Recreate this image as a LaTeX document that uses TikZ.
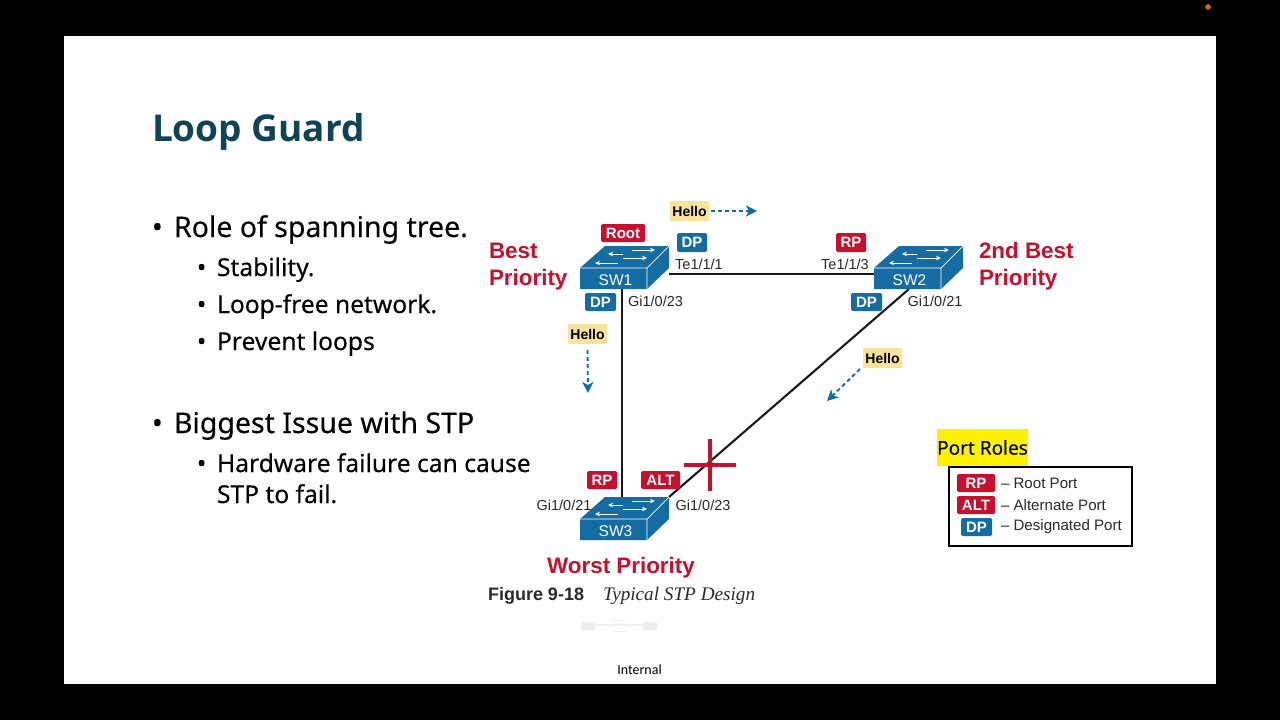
\documentclass[tikz,border=0pt]{standalone}
\usepackage{fontspec}
\setmainfont{Liberation Sans}
\newfontfamily\slidefont[FakeBold=0.25]{Noto Sans}
\newfontfamily\titlefont{Open Sans}
\newfontfamily\internalfont{Carlito}
\newfontfamily\capfont{Liberation Serif}
\usetikzlibrary{arrows.meta}
\pgfdeclarelayer{bg}
\pgfsetlayers{bg,main}
\definecolor{swblue}{HTML}{156CA3}
\definecolor{tagred}{HTML}{C90F2E}
\definecolor{titleteal}{HTML}{0E4455}
\definecolor{hellobg}{HTML}{F9E29C}
\definecolor{inkgrey}{HTML}{2A2A2A}
\tikzset{
  lbl/.style={inner sep=0pt,outer sep=0pt,font=\fontsize{14.5}{16}\selectfont,text=inkgrey},
  porttxt/.style={lbl,anchor=center},
  legtxt/.style={lbl,anchor=west,font=\fontsize{15.1}{16}\selectfont},
  tag/.style={rounded corners=1.5pt,inner sep=0pt,outer sep=0pt,text=white,
    font=\bfseries\fontsize{15}{16}\selectfont,anchor=north west},
  redtag/.style={tag,fill=tagred},
  bluetag/.style={tag,fill=swblue},
  hello/.style={rounded corners=1pt,fill=hellobg,inner sep=0pt,outer sep=0pt,anchor=north west,
    minimum width=39,minimum height=20,text=black,font=\bfseries\fontsize{14}{16}\selectfont},
  helloarrow/.style={draw=swblue,line width=1.9pt,dash pattern=on 4pt off 3pt,
    -{Stealth[length=11pt,width=11pt,inset=3pt]}},
  link/.style={draw=inkgrey!60!black,line width=2.1pt},
  prio/.style={inner sep=0pt,outer sep=0pt,anchor=base west,text=tagred,
    font=\bfseries\fontsize{22.4}{24}\selectfont},
  head/.style={inner sep=0pt,outer sep=0pt,anchor=base west,text=black},
  lv1/.style={head,font=\slidefont\fontsize{28.5}{32}\selectfont},
  lv2/.style={head,font=\slidefont\fontsize{24.6}{28}\selectfont},
  swarrow/.style={draw=white,line width=1pt,-{Stealth[length=5pt,width=4.5pt]}},
  swbox/.style={inner sep=0pt,outer sep=0pt,minimum width=89,minimum height=43,anchor=north west}
}
% switch: name, left x, top y of the body, label
\newcommand{\netswitch}[4]{%
  \node[swbox] (#1) at (#2,#3) {};
  \begin{scope}[shift={(#2,#3)}]
    \fill[swblue] (0,22) -- (25,0) -- (89,0) -- (89,22) -- (67,43) -- (0,43) -- cycle;
    \draw[white,line width=0.7pt] (0,22) -- (67,22) -- (89,0) (67,22) -- (67,43);
    \draw[swarrow] (52,4) -- (75,4);
    \draw[swarrow] (43,8) -- (28,8);
    \draw[swarrow] (43,12) -- (67,12);
    \draw[swarrow] (38,17) -- (15,17);
    \node[inner sep=0pt,text=white,font=\fontsize{15.5}{16}\selectfont] (#1label) at (35.5,34) {#4};
  \end{scope}}
\begin{document}
\begin{tikzpicture}[x=1pt,y=-1pt]
\useasboundingbox (0,0) rectangle (1280,720);
\begin{pgfonlayer}{bg}
  \fill[black] (0,0) rectangle (1280,720);
  \fill[white] (64,36) rectangle (1216,684);
  \fill[orange!85!black] (1208,7) circle (2.8);
\end{pgfonlayer}

\node[head,font=\titlefont\bfseries\fontsize{37}{40}\selectfont,text=titleteal] (title) at (152,141) {Loop Guard};

\node[lv1] (b1) at (152,237) {•};
\node[lv1] (t1) at (174,237) {Role of spanning tree.};
\node[lv2] (b2) at (197,276) {•};
\node[lv2] (t2) at (217,276) {Stability.};
\node[lv2] (b3) at (197,313) {•};
\node[lv2] (t3) at (217,313) {Loop-free network.};
\node[lv2] (b4) at (197,350) {•};
\node[lv2] (t4) at (217,350) {Prevent loops};
\node[lv1] (b5) at (152,433) {•};
\node[lv1] (t5) at (174,433) {Biggest Issue with STP};
\node[lv2] (b6) at (197,472) {•};
\node[lv2] (t6) at (217,472) {Hardware failure can cause};
\node[lv2] (t7) at (217,503) {STP to fail.};

\netswitch{sw1}{580}{246}{SW1}
\netswitch{sw2}{874}{246}{SW2}
\netswitch{sw3}{580}{497}{SW3}

\begin{pgfonlayer}{bg}
  \draw[link] ([yshift=-6.5pt]sw1.east) -- ([yshift=-6.5pt]sw2.west);
  \draw[link] ([xshift=-2.5pt]sw1.south) -- ([xshift=-2.5pt]sw3.north);
  \draw[link] ([xshift=-9.5pt]sw2.south) -- (sw3.north east);
\end{pgfonlayer}

\node[redtag,minimum width=44,minimum height=18] (root) at (601,224) {Root};
\node[bluetag,minimum width=30,minimum height=19] (dp1) at (677,233) {DP};
\node[bluetag,minimum width=31,minimum height=18] (dp2) at (585,293) {DP};
\node[redtag,minimum width=30,minimum height=19] (rp1) at (836,233) {RP};
\node[bluetag,minimum width=31,minimum height=18] (dp3) at (851,293) {DP};
\node[redtag,minimum width=30,minimum height=18] (rp2) at (587,471) {RP};
\node[redtag,minimum width=39,minimum height=18] (alt) at (641,471) {ALT};

\node[porttxt] (p1) at (699,264) {Te1/1/1};
\node[porttxt] (p2) at (655.5,301) {Gi1/0/23};
\node[porttxt] (p3) at (845,264) {Te1/1/3};
\node[porttxt] (p4) at (935,301) {Gi1/0/21};
\node[porttxt] (p5) at (564,505) {Gi1/0/21};
\node[porttxt] (p6) at (703,505) {Gi1/0/23};

\node[hello] (h1) at (670,201) {Hello};
\coordinate (h1end) at (757,211);
\draw[helloarrow] ([xshift=2pt]h1.east) -- (h1end);
\node[hello] (h2) at (568,324) {Hello};
\coordinate (h2end) at (588,393);
\draw[helloarrow] ([yshift=-6pt]h2.south) -- (h2end);
\node[hello] (h3) at (863,348) {Hello};
\coordinate (h3end) at (827,401);
\draw[helloarrow] ([xshift=-3pt,yshift=-1pt]h3.south west) -- (h3end);

\draw[tagred,line width=3.4pt] (710,439) -- (710,491) (684,465) -- (736,465);

\node[prio] (bp1) at (489,258) {Best};
\node[prio] (bp2) at (489,285) {Priority};
\node[prio] (sb1) at (979,258) {2nd Best};
\node[prio] (sb2) at (979,285) {Priority};
\node[prio,anchor=base] (wp) at (621,573) {Worst Priority};

\node[head,font=\bfseries\fontsize{18}{18}\selectfont,text=inkgrey,anchor=base west] (fig) at (488,600) {Figure 9-18};
\node[head,font=\capfont\itshape\fontsize{19.2}{18}\selectfont,text=inkgrey] (figt) at (603,600) {Typical STP Design};

% faint ghost shape below the caption
\draw[black!6,line width=2.5pt] (586,625) -- (652,625);
\fill[black!7,rounded corners=2pt] (581,622) rectangle (595,630);
\fill[black!7,rounded corners=2pt] (643,622) rectangle (657,630);
\draw[black!5,line width=0.8pt] (612,620) -- (626,620) (612,631) -- (628,631);

\node[draw=black,line width=2pt,inner sep=0pt,outer sep=0pt,anchor=north west,minimum width=183,minimum height=79] (legend) at (949,467) {};
\node[inner sep=0pt,outer sep=0pt,anchor=north west,fill=yellow,minimum width=91,minimum height=37,
  font=\slidefont\fontsize{19}{24}\selectfont,text=black] (pr) at (937,429) {\raisebox{-6pt}{Port Roles}};
\node[redtag,minimum width=38,minimum height=18] (lrp) at (957,474) {RP};
\node[redtag,minimum width=38,minimum height=18] (lalt) at (957,496) {ALT};
\node[bluetag,minimum width=31,minimum height=18] (ldp) at (961,518) {DP};
\node[legtxt] (l1) at (1001,483) {– Root Port};
\node[legtxt] (l2) at (1001,505) {– Alternate Port};
\node[legtxt] (l3) at (1001,527) {– Designated Port};

\node[inner sep=0pt,font=\internalfont\fontsize{14}{16}\selectfont,text=black] (int) at (639.5,670) {Internal};
\end{tikzpicture}
\end{document}
